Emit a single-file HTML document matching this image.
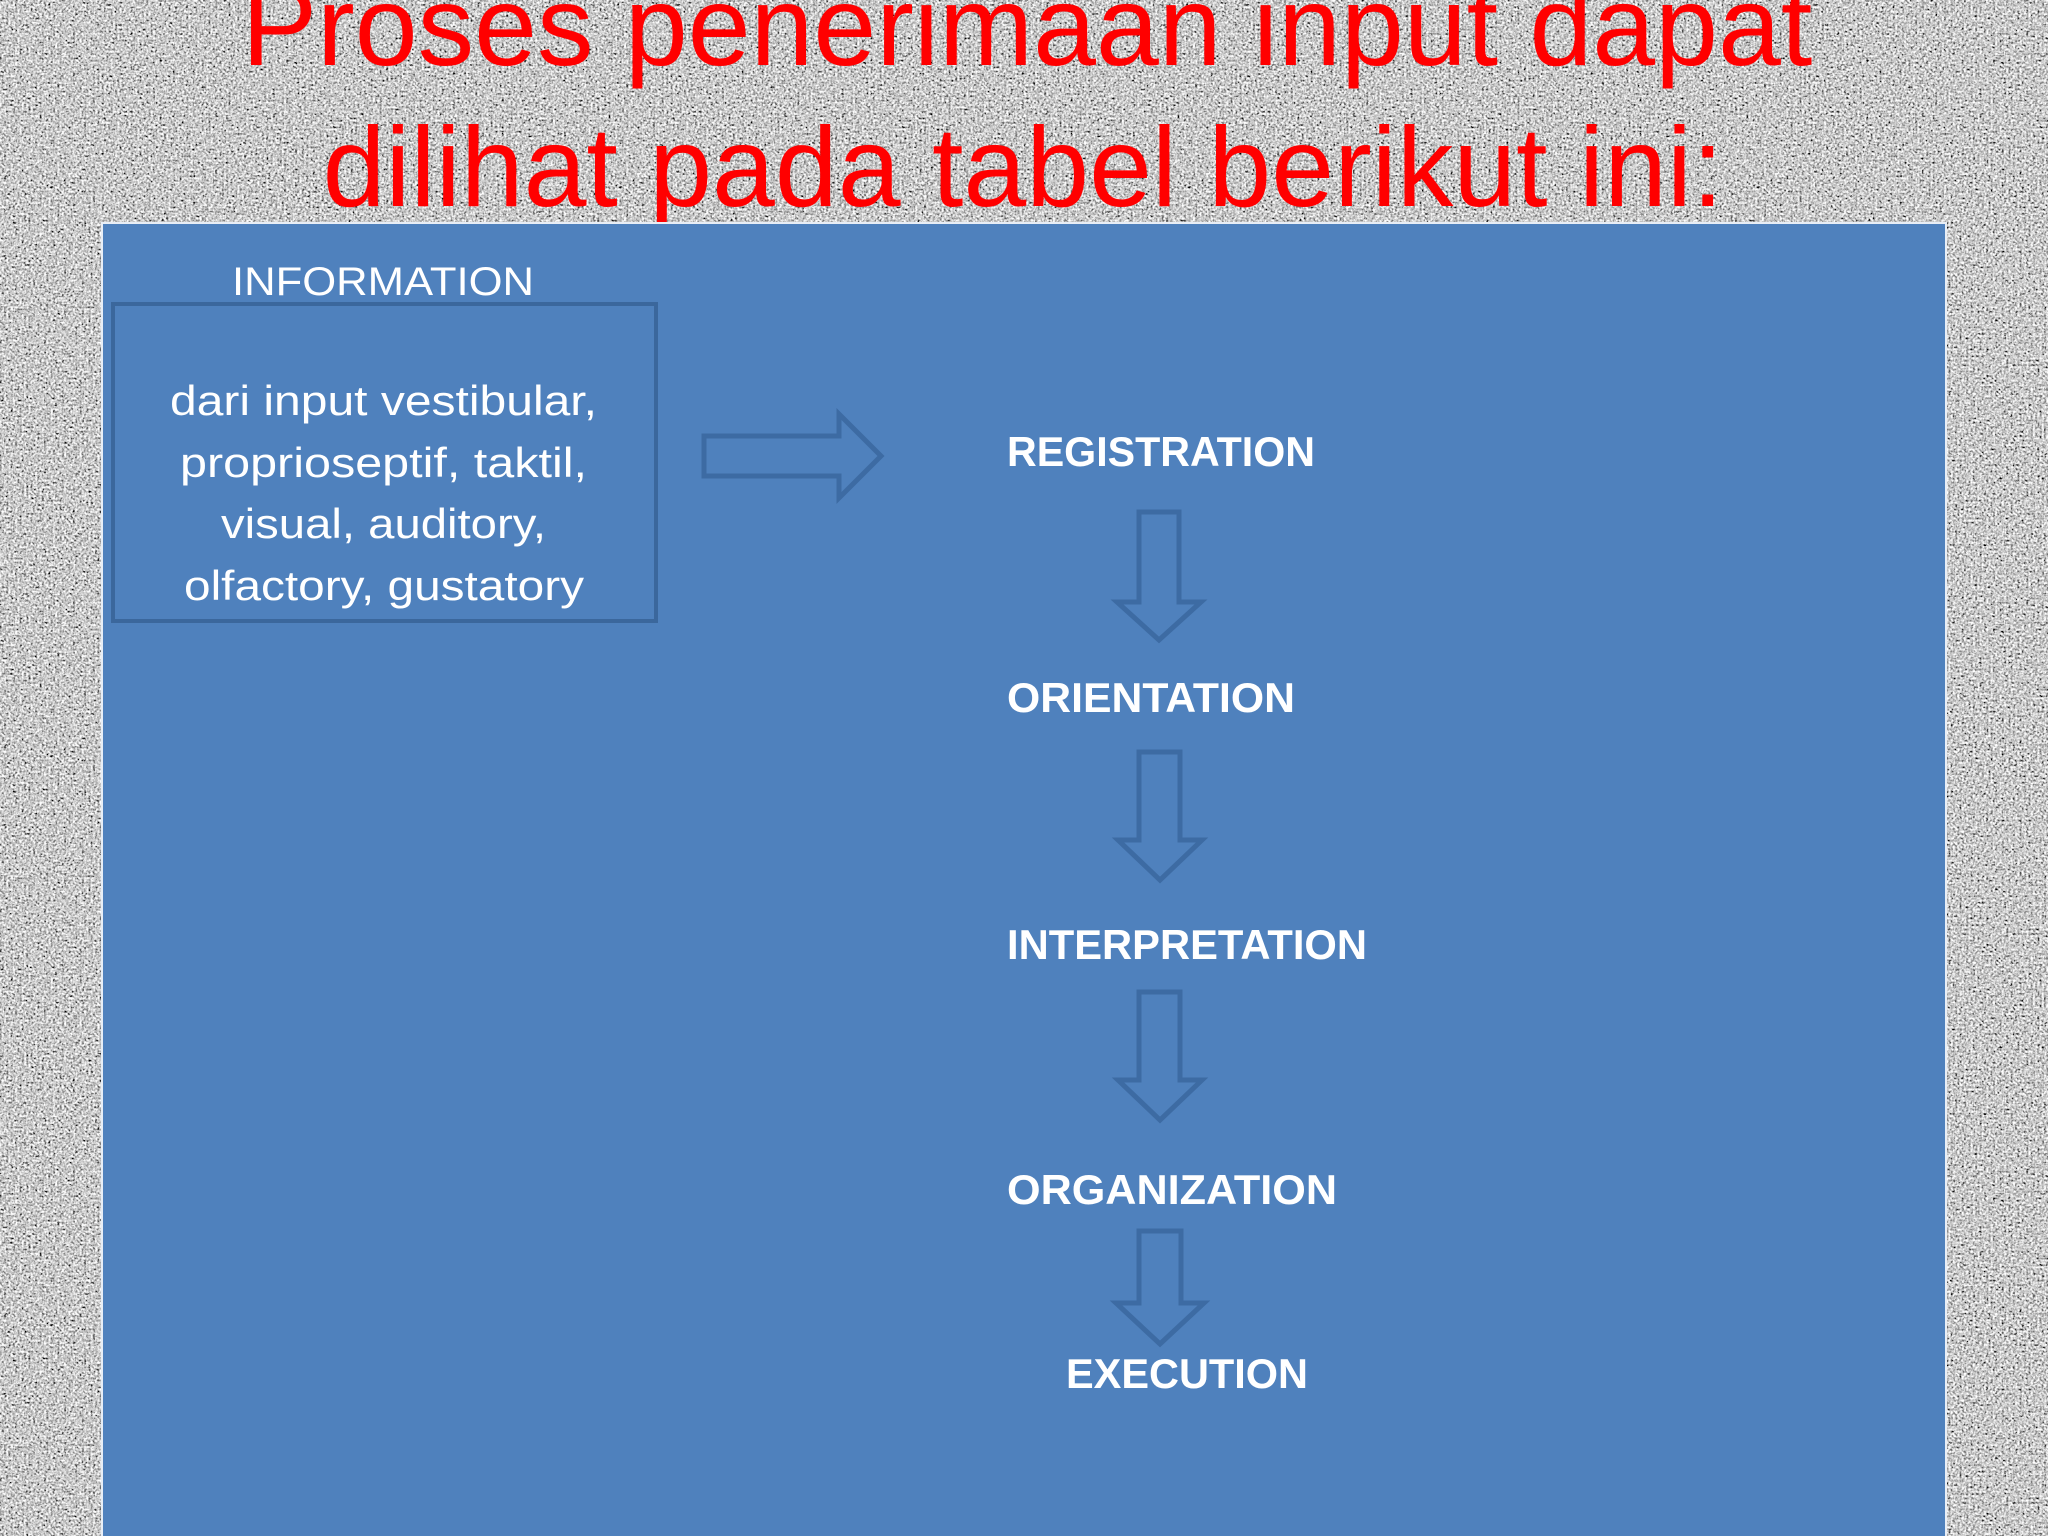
<!DOCTYPE html>
<html><head><meta charset="utf-8"><style>
html,body{margin:0;padding:0;width:2048px;height:1536px;overflow:hidden;background:#8a8a8a;}
svg{position:absolute;left:0;top:0;}
</style></head><body>
<svg width="2048" height="1536" viewBox="0 0 2048 1536" xmlns="http://www.w3.org/2000/svg">
<defs>
<filter id="n" x="0" y="0" width="100%" height="100%">
<feTurbulence type="fractalNoise" baseFrequency="0.45" numOctaves="2" seed="3"/>
<feColorMatrix type="matrix" values="0.33 0.33 0.33 0 0  0.33 0.33 0.33 0 0  0.33 0.33 0.33 0 0  0 0 0 0 1"/>
<feComponentTransfer><feFuncR type="linear" slope="3.2" intercept="-1.0"/><feFuncG type="linear" slope="3.2" intercept="-1.0"/><feFuncB type="linear" slope="3.2" intercept="-1.0"/></feComponentTransfer>
</filter>
</defs>
<rect width="2048" height="1536" filter="url(#n)"/>
<text x="1027" y="65" text-anchor="middle" font-family="Liberation Sans, sans-serif" font-size="113" fill="#ff0000">Proses penerimaan input dapat</text>
<text x="1023" y="206" text-anchor="middle" font-family="Liberation Sans, sans-serif" font-size="113" fill="#ff0000">dilihat pada tabel berikut ini:</text>
<rect x="102" y="223" width="1844" height="1316" fill="#4f81bd" stroke="#e8eef6" stroke-width="2"/>
<text x="232" y="295" font-family="Liberation Sans, sans-serif" font-size="40" fill="#fff" textLength="302" lengthAdjust="spacingAndGlyphs">INFORMATION</text>
<rect x="113" y="304" width="543" height="317" fill="none" stroke="#3b679c" stroke-width="4"/>
<g font-family="Liberation Sans, sans-serif" font-size="42" fill="#fff">
<text x="170" y="415" textLength="427" lengthAdjust="spacingAndGlyphs">dari input vestibular,</text>
<text x="180" y="477" textLength="407" lengthAdjust="spacingAndGlyphs">proprioseptif, taktil,</text>
<text x="221" y="538" textLength="325" lengthAdjust="spacingAndGlyphs">visual, auditory,</text>
<text x="184" y="600" textLength="400" lengthAdjust="spacingAndGlyphs">olfactory, gustatory</text>
</g>
<g fill="none" stroke="#3d6ba3" stroke-width="5" stroke-linejoin="miter">
<polygon points="704,436 839,436 839,414 881,456 839,498 839,476 704,476"/>
<polygon points="1139,512 1179,512 1179,602 1201,602 1159,640 1117,602 1139,602"/>
<polygon points="1139,752 1180,752 1180,840 1202,840 1160,880 1118,840 1139,840"/>
<polygon points="1139,992 1180,992 1180,1080 1202,1080 1160,1120 1118,1080 1139,1080"/>
<polygon points="1139,1231 1181,1231 1181,1303 1204,1303 1160,1344 1116,1303 1139,1303"/>
</g>
<g font-family="Liberation Sans, sans-serif" font-size="42" font-weight="bold" fill="#fff">
<text x="1007" y="466" textLength="308" lengthAdjust="spacingAndGlyphs">REGISTRATION</text>
<text x="1007" y="712" textLength="288" lengthAdjust="spacingAndGlyphs">ORIENTATION</text>
<text x="1007" y="959" textLength="360" lengthAdjust="spacingAndGlyphs">INTERPRETATION</text>
<text x="1007" y="1204" textLength="330" lengthAdjust="spacingAndGlyphs">ORGANIZATION</text>
<text x="1066" y="1388" textLength="242" lengthAdjust="spacingAndGlyphs">EXECUTION</text>
</g>
</svg>
</body></html>
